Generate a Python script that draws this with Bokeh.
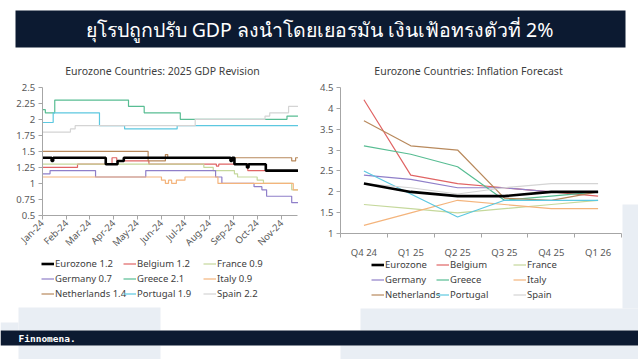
import math
import pandas as pd
from bokeh.plotting import figure
from bokeh.models import Range1d, LinearAxis, FixedTicker, Legend, LegendItem
from bokeh.core.properties import value
from bokeh.embed import file_html
from bokeh.resources import INLINE

# ---------------- data: 2025 GDP forecast revisions (step breakpoints) ----------------
gdp_tick_dates = ["2024-01-01", "2024-02-01", "2024-03-01", "2024-04-01", "2024-05-01", "2024-06-01",
                  "2024-07-01", "2024-08-01", "2024-09-01", "2024-10-01", "2024-11-01"]
gdp_tick_labels = ["Jan-24", "Feb-24", "Mar-24", "Apr-24", "May-24", "Jun-24",
                   "Jul-24", "Aug-24", "Sep-24", "Oct-24", "Nov-24"]
gdp_y_ticks = [0.5, 0.75, 1.0, 1.25, 1.5, 1.75, 2.0, 2.25, 2.5]
gdp_y_labels = ["0.5", "0.75", "1", "1.25", "1.5", "1.75", "2", "2.25", "2.5"]
gdp_last_date = "2024-11-22"

eurozone_dates = ["2024-01-01", "2024-01-13", "2024-01-15", "2024-03-22", "2024-04-06", "2024-04-14",
                  "2024-08-28", "2024-08-30", "2024-09-02", "2024-09-18", "2024-09-20", "2024-10-12"]
eurozone_gdp = [1.4, 1.35, 1.4, 1.3, 1.35, 1.4, 1.35, 1.4, 1.3, 1.25, 1.3, 1.2]

belgium_dates = ["2024-01-01", "2024-02-15", "2024-03-30", "2024-04-05", "2024-05-16", "2024-08-10",
                 "2024-08-13", "2024-09-19"]
belgium_gdp = [1.25, 1.3, 1.4, 1.35, 1.3, 1.27, 1.3, 1.2]

france_dates = ["2024-01-01", "2024-07-25", "2024-08-06", "2024-09-02", "2024-09-06", "2024-10-01",
                "2024-10-09", "2024-11-14"]
france_gdp = [1.3, 1.25, 1.2, 1.15, 1.1, 1.05, 1.0, 0.9]

germany_dates = ["2024-01-01", "2024-01-11", "2024-03-09", "2024-05-12", "2024-08-09", "2024-08-17",
                 "2024-09-27", "2024-10-07", "2024-10-13", "2024-11-14"]
germany_gdp = [1.15, 1.2, 1.1, 1.2, 1.1, 1.0, 0.95, 0.9, 0.8, 0.7]

greece_dates = ["2024-01-01", "2024-01-05", "2024-01-17", "2024-04-20", "2024-05-10", "2024-06-25",
                "2024-11-08"]
greece_gdp = [2.15, 2.1, 2.3, 2.2, 2.1, 2.0, 2.05]

italy_dates = ["2024-01-01", "2024-06-01", "2024-06-06", "2024-06-10", "2024-06-14", "2024-06-20",
               "2024-07-01", "2024-08-12", "2024-11-16"]
italy_gdp = [1.1, 1.05, 1.0, 1.05, 1.0, 1.05, 1.1, 1.0, 0.9]

netherlands_dates = ["2024-01-01", "2024-05-15", "2024-06-06", "2024-06-09", "2024-11-14", "2024-11-19"]
netherlands_gdp = [1.5, 1.35, 1.45, 1.4, 1.35, 1.4]

portugal_dates = ["2024-01-01", "2024-01-15", "2024-03-14", "2024-04-15", "2024-06-21"]
portugal_gdp = [1.95, 2.1, 1.9, 1.85, 1.9]

spain_dates = ["2024-01-01", "2024-02-06", "2024-02-12", "2024-07-14", "2024-10-11", "2024-10-17",
               "2024-11-10"]
spain_gdp = [1.8, 1.85, 1.9, 2.0, 2.05, 2.1, 2.2]

gdp_labels = ["Eurozone 1.2", "Belgium 1.2", "France 0.9", "Germany 0.7", "Greece 2.1",
              "Italy 0.9", "Netherlands 1.4", "Portugal 1.9", "Spain 2.2"]

# ---------------- data: inflation forecasts ----------------
quarters = ["Q4 24", "Q1 25", "Q2 25", "Q3 25", "Q4 25", "Q1 26"]
inf_y_ticks = [1.0, 1.5, 2.0, 2.5, 3.0, 3.5, 4.0, 4.5]
inf_y_labels = ["1", "1.5", "2", "2.5", "3", "3.5", "4", "4.5"]
eurozone_inf = [2.2, 2.0, 1.9, 1.9, 2.0, 2.0]
belgium_inf = [4.2, 2.4, 2.2, 2.1, 2.0, 1.9]
france_inf = [1.7, 1.6, 1.5, 1.6, 1.7, 1.8]
germany_inf = [2.4, 2.3, 2.1, 2.1, 2.0, 2.0]
greece_inf = [3.1, 2.9, 2.6, 1.8, 1.9, 2.0]
italy_inf = [1.2, 1.5, 1.8, 1.7, 1.6, 1.6]
netherlands_inf = [3.7, 3.1, 3.0, 1.85, 1.8, 2.0]
portugal_inf = [2.5, 1.95, 1.4, 1.8, 1.8, 1.8]
spain_inf = [2.2, 2.1, 1.95, 2.1, 2.2, 2.2]
inf_labels = ["Eurozone", "Belgium", "France", "Germany", "Greece", "Italy",
              "Netherlands", "Portugal", "Spain"]

title_text = "ยุโรปถูกปรับ GDP ลงนำโดยเยอรมัน เงินเฟ้อทรงตัวที่ 2%"
gdp_title = "Eurozone Countries: 2025 GDP Revision"
inf_title = "Eurozone Countries: Inflation Forecast"
footer_text = "Finnomena."

# ---------------- styles ----------------
colors = ["#000000", "#E06464", "#C5D89B", "#8F7FC9", "#58BD93", "#F4B47C", "#B8895C", "#5CC8E0", "#D4D4D4"]
widths = [2.6, 1.2, 1.2, 1.2, 1.2, 1.2, 1.2, 1.2, 1.2]
NAVY = "#0C1A31"
PANEL_BG = "#E9EEF4"
AXIS_C = "#A6A6A6"
TXT_C = "#595959"
FONT = "Noto Sans"

OFF = 0           # Bokeh's page template has no body margin
W, H = 638, 359   # figure size


def ms(s):
    return int(pd.Timestamp(s).value // 10**6)


def x_range_from(v0, px0, v1, px1):
    k = (px1 - px0) / (v1 - v0)
    start = v0 - (px0 - OFF) / k
    return Range1d(start, start + W / k)


def y_range_from(v_top, py_top, v_bot, py_bot):
    k = (py_bot - py_top) / (v_top - v_bot)
    end = v_top + (py_top - OFF) / k
    return Range1d(end - H / k, end)


p = figure(width=W, height=H, x_range=Range1d(OFF, OFF + W), y_range=Range1d(OFF + H, OFF),
           output_backend="svg", toolbar_location=None, x_axis_location=None, y_axis_location=None,
           min_border=0, outline_line_color=None, background_fill_color="white",
           border_fill_color="white")
p.xgrid.visible = False
p.ygrid.visible = False

# ---------------- slide decoration (reference pixel space) ----------------
p.quad(left=[18, 0, 18, 360, 622, 340], right=[160, 18, 160, 638, 638, 638],
       top=[307, 322, 345, 308, 204, 345], bottom=[330, 330, 359, 330, 308, 359],
       fill_color=PANEL_BG, line_color=None)
p.quad(left=[15], right=[625], top=[10], bottom=[47], fill_color=NAVY, line_color=None)
p.quad(left=[0], right=[638], top=[330], bottom=[345], fill_color=NAVY, line_color=None)
p.text(x=[319], y=[29], text=[title_text], text_font=value(FONT), text_font_size=value("19.5px"),
       text_color="white", text_align="center", text_baseline="middle")
p.text(x=[18], y=[338], text=[footer_text], text_font=value("DejaVu Sans Mono"),
       text_font_size=value("9.5px"), text_font_style="bold", text_color="white",
       text_align="left", text_baseline="middle")
p.text(x=[162, 468], y=[70, 70], text=[gdp_title, inf_title], text_font=value(FONT),
       text_font_size=value("10.5px"), text_color="#404040", text_align="center", text_baseline="middle")

# ---------------- GDP chart ----------------
jan1 = ms(gdp_tick_dates[0])
end_ms = ms(gdp_last_date)
p.extra_x_ranges["gdp_x"] = x_range_from(jan1, 41.7, ms(gdp_tick_dates[-1]), 281.0)
p.extra_y_ranges["gdp_y"] = y_range_from(2.5, 86.7, 0.5, 215.0)

gdp_series = [(eurozone_dates, eurozone_gdp), (belgium_dates, belgium_gdp), (france_dates, france_gdp),
              (germany_dates, germany_gdp), (greece_dates, greece_gdp), (italy_dates, italy_gdp),
              (netherlands_dates, netherlands_gdp), (portugal_dates, portugal_gdp), (spain_dates, spain_gdp)]
gdp_renderers = [None] * len(gdp_series)
for i in list(range(1, len(gdp_series))) + [0]:
    d, v = gdp_series[i]
    xs = [ms(s) for s in d] + [end_ms]
    ys = list(v) + [v[-1]]
    gdp_renderers[i] = p.step(x=xs, y=ys, mode="after", line_color=colors[i], line_width=widths[i],
                              x_range_name="gdp_x", y_range_name="gdp_y")

gdp_tick_ms = [ms(s) for s in gdp_tick_dates]
gx = LinearAxis(x_range_name="gdp_x", y_range_name="gdp_y", fixed_location=0.5, bounds=(jan1, end_ms),
                ticker=FixedTicker(ticks=gdp_tick_ms),
                major_label_overrides=dict(zip(gdp_tick_ms, gdp_tick_labels)),
                major_label_orientation=math.pi / 4)
gy = LinearAxis(x_range_name="gdp_x", y_range_name="gdp_y", fixed_location=jan1, bounds=(0.5, 2.5),
                ticker=FixedTicker(ticks=gdp_y_ticks),
                major_label_overrides=dict(zip(gdp_y_ticks, gdp_y_labels)))

# ---------------- Inflation chart ----------------
p.extra_x_ranges["inf_x"] = x_range_from(0, 340.0, len(quarters), 621.0)
p.extra_y_ranges["inf_y"] = y_range_from(4.5, 86.7, 1.0, 233.3)
inf_x = [i + 0.5 for i in range(len(quarters))]
inf_series = [eurozone_inf, belgium_inf, france_inf, germany_inf, greece_inf, italy_inf,
              netherlands_inf, portugal_inf, spain_inf]
inf_renderers = [None] * len(inf_series)
for i in list(range(1, len(inf_series))) + [0]:
    inf_renderers[i] = p.line(x=inf_x, y=inf_series[i], line_color=colors[i], line_width=widths[i],
                              x_range_name="inf_x", y_range_name="inf_y")

ix = LinearAxis(x_range_name="inf_x", y_range_name="inf_y", fixed_location=1.0, bounds=(0, len(quarters)),
                ticker=FixedTicker(ticks=inf_x, minor_ticks=list(range(len(quarters) + 1))),
                major_label_overrides=dict(zip(inf_x, quarters)))
iy = LinearAxis(x_range_name="inf_x", y_range_name="inf_y", fixed_location=0, bounds=(1.0, 4.5),
                ticker=FixedTicker(ticks=inf_y_ticks),
                major_label_overrides=dict(zip(inf_y_ticks, inf_y_labels)))

for ax in (gx, gy, ix, iy):
    ax.axis_line_color = AXIS_C
    ax.major_tick_line_color = AXIS_C
    ax.minor_tick_line_color = None
    ax.major_tick_in = 0
    ax.major_tick_out = 4
    ax.major_label_text_font = FONT
    ax.major_label_text_font_size = "9.5px"
    ax.major_label_text_color = TXT_C
    ax.major_label_standoff = 3
ix.major_tick_out = 0
ix.major_tick_line_color = None
ix.minor_tick_line_color = AXIS_C
ix.minor_tick_in = 0
ix.minor_tick_out = 4
ix.major_label_standoff = 8
gx.major_label_standoff = 2

p.add_layout(gx, "below")
p.add_layout(gy, "left")
p.add_layout(ix, "below")
p.add_layout(iy, "left")

# ---------------- legends (three columns each) ----------------
def add_legend(renderers, labels, idx, x_ref, row1_ref):
    gh, sp = 13, 2
    n = len(idx)
    lh = n * gh + (n - 1) * sp
    top_ref = row1_ref - gh / 2
    bottom_up = (OFF + H) - (top_ref + lh)
    lg = Legend(items=[LegendItem(label=labels[k], renderers=[renderers[k]]) for k in idx],
                location=(x_ref - OFF, bottom_up), orientation="vertical",
                glyph_width=13, glyph_height=gh, label_height=gh, spacing=sp, padding=0, margin=0,
                label_standoff=1, label_text_font=FONT, label_text_font_size="9.5px",
                label_text_color="#404040", border_line_color=None, background_fill_alpha=0)
    p.add_layout(lg)

add_legend(gdp_renderers, gdp_labels, [0, 3, 6], 41, 263.3)
add_legend(gdp_renderers, gdp_labels, [1, 4, 7], 123, 263.3)
add_legend(gdp_renderers, gdp_labels, [2, 5, 8], 203, 263.3)
add_legend(inf_renderers, inf_labels, [0, 3, 6], 371, 264)
add_legend(inf_renderers, inf_labels, [1, 4, 7], 436, 264)
add_legend(inf_renderers, inf_labels, [2, 5, 8], 513, 264)

open("out.html", "w").write(file_html(p, INLINE))
